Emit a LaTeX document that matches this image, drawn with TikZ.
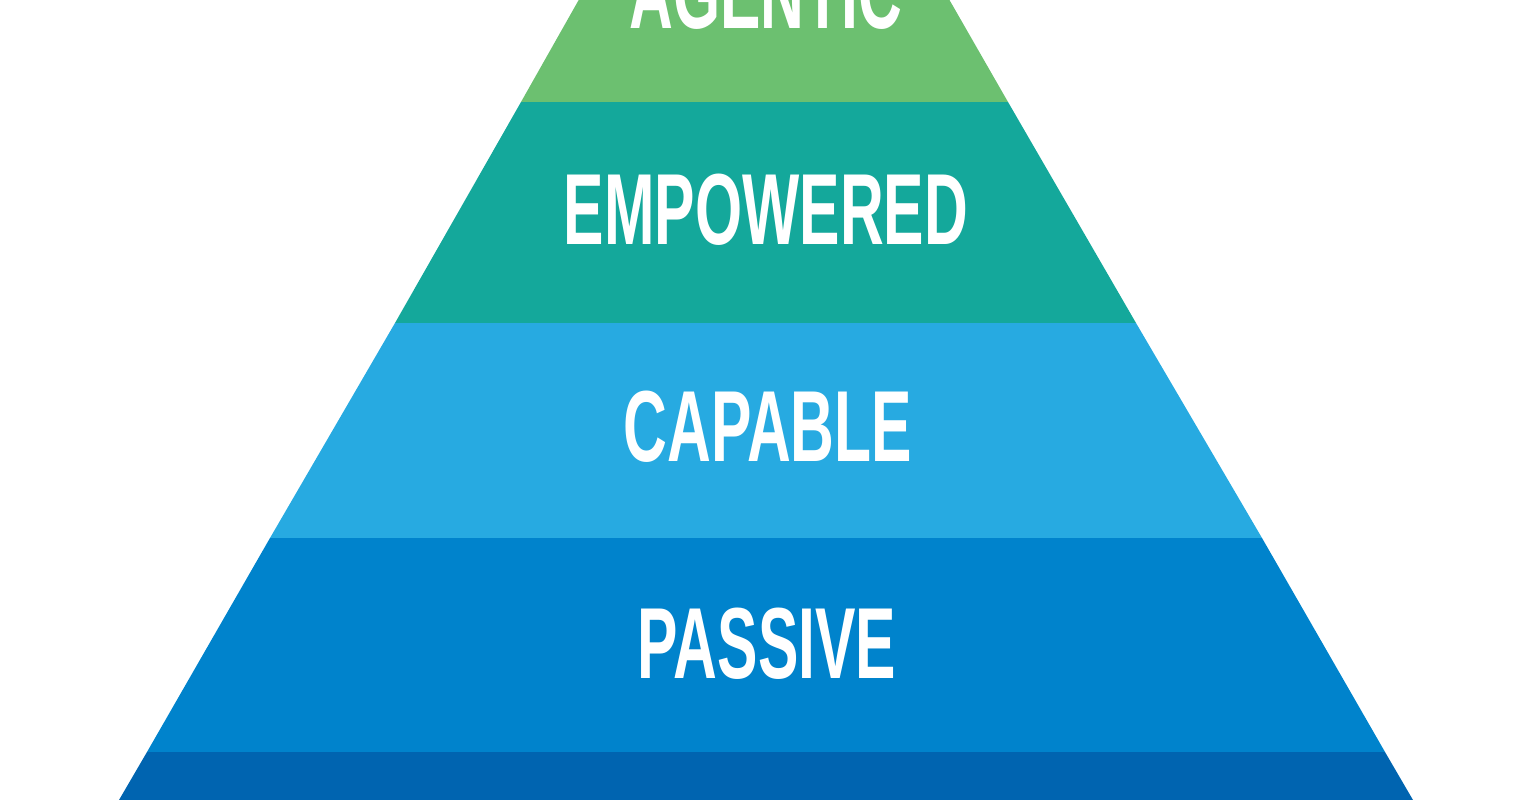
\documentclass[tikz,border=0pt]{standalone}
\usepackage{fontspec}
\setmainfont{Liberation Sans}
\definecolor{cA}{HTML}{6CC070}
\definecolor{cB}{HTML}{14A89B}
\definecolor{cC}{HTML}{27AAE1}
\definecolor{cD}{HTML}{0083CC}
\definecolor{cE}{HTML}{0064B0}
\begin{document}
\begin{tikzpicture}[x=1pt,y=-1pt,
  lbl/.style={text=white,font=\fontsize{101}{101}\selectfont\bfseries,inner sep=0pt}]
\useasboundingbox (0,0) rectangle (1528,800);
\clip (0,0) rectangle (1528,800);
\fill[cA] (590,-20) -- (938,-20) -- (1008,102) -- (521,102) -- cycle;
\fill[cB] (521,102) -- (1008,102) -- (1136,323) -- (395,323) -- cycle;
\fill[cC] (395,323) -- (1136,323) -- (1262,538) -- (270,538) -- cycle;
\fill[cD] (270,538) -- (1262,538) -- (1385,752) -- (147,752) -- cycle;
\fill[cE] (147,752) -- (1385,752) -- (1420,812) -- (112,812) -- cycle;
\node[lbl] (agentic) at (766,-6) {\scalebox{0.6}[1]{AGENTIC}};
\node[lbl] (empowered) at (766,210) {\scalebox{0.6}[1]{EMPOWERED}};
\node[lbl] (capable) at (768,427) {\scalebox{0.6}[1]{CAPABLE}};
\node[lbl] (passive) at (767,644) {\scalebox{0.6}[1]{PASSIVE}};
\end{tikzpicture}
\end{document}
